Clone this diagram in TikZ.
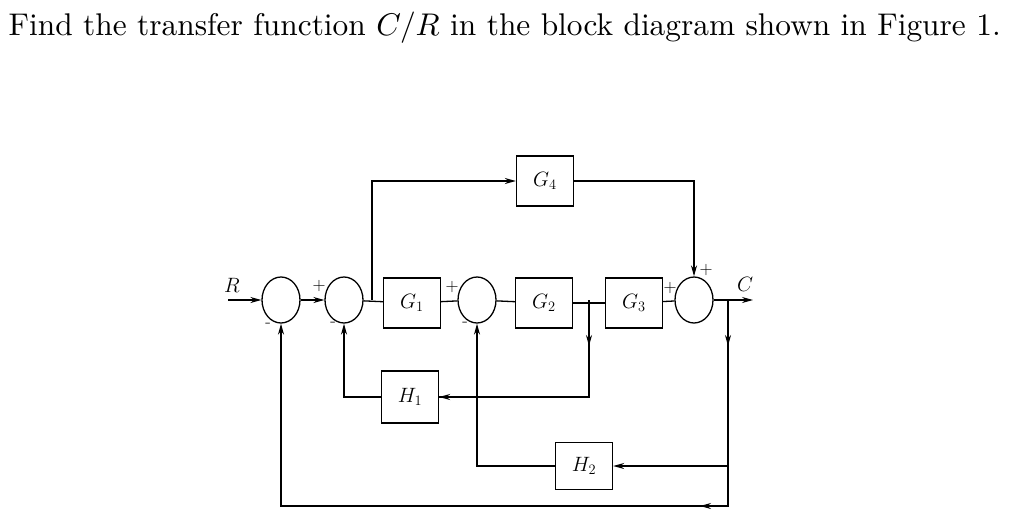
\documentclass[tikz,border=0pt]{standalone}
\usetikzlibrary{arrows.meta,shapes.geometric}
\begin{document}
\begin{tikzpicture}[x=1pt,y=-1pt,line width=1.3pt,
 blk/.style={draw,minimum width=57pt,minimum height=50pt,inner sep=0pt,font=\fontsize{21}{24}\selectfont},
 sm/.style={draw,ellipse,minimum width=38pt,minimum height=46pt,inner sep=0pt},
 ar/.style={-{Stealth[length=11pt,width=6pt]}},
 lb/.style={font=\fontsize{18}{20}\selectfont,inner sep=0pt}]
\useasboundingbox (0,0) rectangle (1024,516);
\node[anchor=west,inner sep=0pt] (title) at (8,28) {\resizebox{992pt}{!}{Find the transfer function $C/R$ in the block diagram shown in Figure 1.}};
\node[sm] (s1) at (281,300) {};
\node[sm] (s2) at (344,300) {};
\node[blk] (g1) at (412,303) {$G_1$};
\node[sm] (s3) at (477,300) {};
\node[blk] (g2) at (544,303) {$G_2$};
\node[blk] (g3) at (634,303) {$G_3$};
\node[sm] (s4) at (694,300) {};
\node[blk] (g4) at (545,181) {$G_4$};
\node[blk,minimum height=52pt] (h1) at (410,397) {$H_1$};
\node[blk,minimum height=47pt] (h2) at (584,466) {$H_2$};
\coordinate (rin) at (228,300);
\coordinate (cout) at (753,300);
\coordinate (j1) at (372,300);
\coordinate (j2) at (589,300);
\coordinate (j3) at (728,300);
\node[lb,font=\fontsize{22}{24}\selectfont\itshape] (R) at (232,285) {$R$};
\node[lb,font=\fontsize{22}{24}\selectfont] (C) at (745,284) {$C$};
\node[lb] (p1) at (319,286) {+};
\node[lb] (m1) at (268,325) {-};
\node[lb] (m2) at (333,324) {-};
\node[lb] (p2) at (452,287) {+};
\node[lb] (m3) at (465,324) {-};
\node[lb] (p3) at (670,288) {+};
\node[lb] (p4) at (706,270) {+};
\draw[ar] (rin) -- (s1);
\draw[ar] (s1) -- (s2);
\draw (s2) -- (g1);
\draw (g1) -- (s3);
\draw (s3) -- (g2);
\draw (g2) -- (g3);
\draw (g3) -- (s4);
\draw[ar] (s4) -- (cout);
\draw[ar] (j1) |- (g4);
\draw[ar] (g4) -| (s4);
\draw[ar] (j2) -- ++(0,46);
\draw[ar] (j3) -- ++(0,46);
\draw (j2) -- ++(0,46) |- (h1);
\draw[ar] (j2 |- h1) -- (h1);
\draw[ar] (h1) -| (s2);
\draw (j3) -- (j3 |- h2);
\draw[ar] (j3 |- h2) -- (h2);
\draw[ar] (h2) -| (s3);
\draw (j3) |- (700,506);
\draw[ar] (728,506) -- (700,506);
\draw[ar] (700,506) -| (s1);
\end{tikzpicture}
\end{document}
